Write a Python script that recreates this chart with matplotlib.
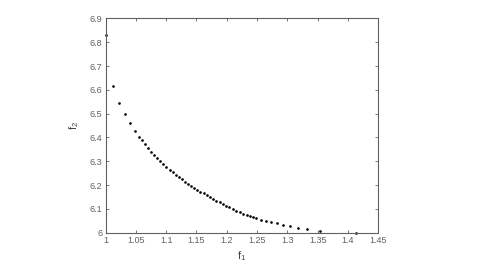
import matplotlib
matplotlib.use("Agg")
import matplotlib.pyplot as plt

plt.rcParams["font.family"] = ["Liberation Sans", "DejaVu Sans"]
plt.rcParams["mathtext.fontset"] = "custom"
plt.rcParams["mathtext.rm"] = "Liberation Sans"
plt.rcParams["mathtext.default"] = "regular"

# Pareto front points
f1 = [1.0, 1.0126, 1.0225, 1.032, 1.040, 1.048, 1.055,
      1.0605, 1.0655, 1.0705, 1.0755, 1.0805, 1.0855, 1.0905, 1.0955, 1.1005,
      1.1055, 1.1105, 1.1155, 1.1205, 1.1256, 1.1307, 1.1358, 1.1409, 1.1460,
      1.1512, 1.1564, 1.1616, 1.1668, 1.1721, 1.1774, 1.1827, 1.1881, 1.1935,
      1.1990, 1.2045, 1.2101, 1.2157, 1.2214, 1.2271, 1.2329, 1.2388, 1.2437,
      1.2486, 1.2564, 1.2646, 1.2729, 1.2823, 1.2922, 1.3042, 1.3169, 1.3328,
      1.3543, 1.413]
f2 = [6.83, 6.614, 6.544, 6.497, 6.459, 6.428, 6.403,
      6.389, 6.372, 6.357, 6.341, 6.327, 6.314, 6.301, 6.288, 6.276,
      6.265, 6.254, 6.244, 6.234, 6.224, 6.215, 6.206, 6.197, 6.189,
      6.181, 6.173, 6.165, 6.157, 6.149, 6.142, 6.135, 6.127, 6.120,
      6.113, 6.106, 6.099, 6.092, 6.086, 6.079, 6.074, 6.069, 6.065,
      6.060, 6.054, 6.050, 6.045, 6.039, 6.033, 6.028, 6.020, 6.014,
      6.006, 6.000]

xticks = [1, 1.05, 1.1, 1.15, 1.2, 1.25, 1.3, 1.35, 1.4, 1.45]
xticklabels = ["1", "1.05", "1.1", "1.15", "1.2", "1.25", "1.3", "1.35", "1.4", "1.45"]
yticks = [6, 6.1, 6.2, 6.3, 6.4, 6.5, 6.6, 6.7, 6.8, 6.9]
yticklabels = ["6", "6.1", "6.2", "6.3", "6.4", "6.5", "6.6", "6.7", "6.8", "6.9"]

fig = plt.figure(figsize=(4.8, 2.7), dpi=100)
ax = fig.add_axes([0.220, 0.138, 0.568, 0.794])

ax.plot(f1, f2, linestyle="none", marker="o", markersize=0.9, color="black", clip_on=False)

ax.set_xlim(1, 1.45)
ax.set_ylim(6, 6.9)
ax.set_xticks(xticks)
ax.set_xticklabels(xticklabels)
ax.set_yticks(yticks)
ax.set_yticklabels(yticklabels)

grey = "#606060"
for s in ax.spines.values():
    s.set_color(grey)
    s.set_linewidth(0.8)
ax.tick_params(direction="in", length=2.5, width=0.6, colors=grey, labelsize=6.5,
               top=True, right=True, pad=2.5)

ax.set_xlabel("f$_1$", fontsize=8, color="#444444", labelpad=3)
ax.set_ylabel("f$_2$", fontsize=8, color="#444444", labelpad=6)

fig.savefig("out.png", dpi=100)
